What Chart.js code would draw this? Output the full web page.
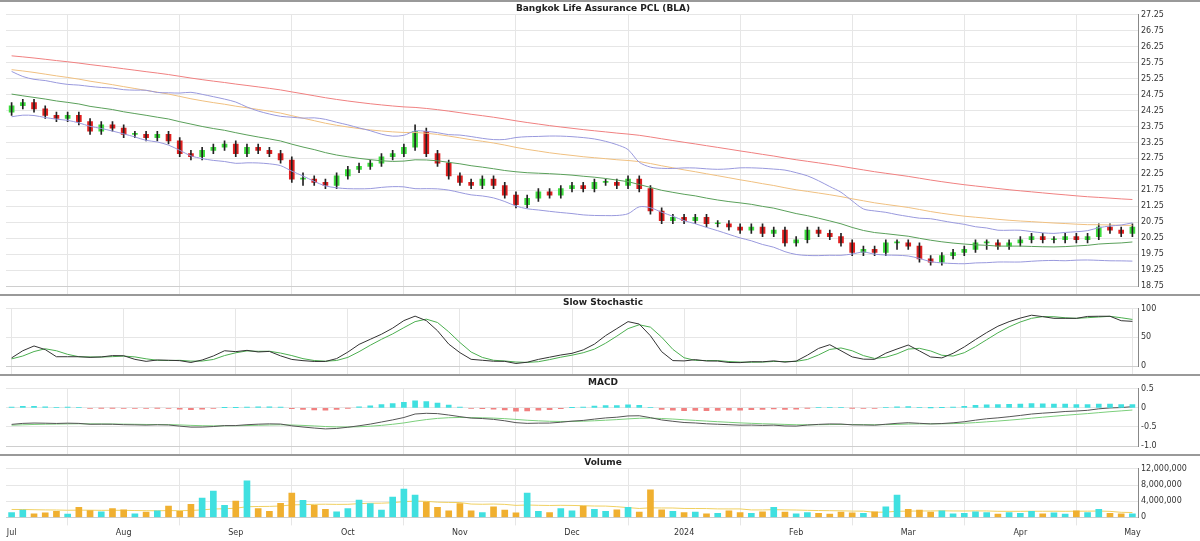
<!DOCTYPE html>
<html><head><meta charset="utf-8">
<script src="https://cdn.jsdelivr.net/npm/chart.js@4.4.0/dist/chart.umd.min.js"></script>
<style>
body{margin:0;background:#fff;font-family:"DejaVu Sans",sans-serif}
.p{position:absolute;left:0;width:1200px;border-top:2px solid #999;box-sizing:border-box}
</style></head><body>
<div class="p" style="top:0;height:294px"><canvas id="main"></canvas></div>
<div class="p" style="top:294px;height:80px"><canvas id="stoch"></canvas></div>
<div class="p" style="top:374px;height:80px"><canvas id="macd"></canvas></div>
<div class="p" style="top:454px;height:87px"><canvas id="vol"></canvas></div>
<script>
// prior closes, used only to warm up the indicators
const historyCloses = [26.8,26.6,26.7,26.4,26.2,26.3,26.0,25.9,25.7,25.8,25.5,25.6,25.3,25.1,25.2,25.0,24.9,25.1,24.8,24.7,24.9,24.6,24.5,24.7,24.4,24.6,24.3,24.5,24.4,24.3];
const opens = [24.2,24.4,24.5,24.3,24.1,24.0,24.1,23.9,23.6,23.8,23.7,23.5,23.5,23.4,23.5,23.3,22.9,22.8,23.0,23.1,23.2,22.9,23.1,23.0,22.9,22.7,22.1,22.1,22.0,21.9,22.2,22.4,22.5,22.6,22.8,22.9,23.1,23.6,22.9,22.6,22.2,22.0,21.9,22.1,21.9,21.6,21.3,21.5,21.7,21.6,21.8,21.9,21.8,22.0,22.0,21.9,22.1,21.8,21.1,20.8,20.9,20.8,20.9,20.7,20.7,20.6,20.5,20.6,20.4,20.5,20.1,20.2,20.5,20.4,20.3,20.1,19.8,19.9,19.8,20.1,20.1,20.0,19.6,19.5,19.7,19.8,19.9,20.1,20.1,20.0,20.1,20.2,20.3,20.2,20.2,20.3,20.2,20.3,20.6,20.5,20.4];
const closes = [24.4,24.5,24.3,24.1,24.0,24.1,23.9,23.6,23.8,23.7,23.5,23.5,23.4,23.5,23.3,22.9,22.8,23.0,23.1,23.2,22.9,23.1,23.0,22.9,22.7,22.1,22.1,22.0,21.9,22.2,22.4,22.5,22.6,22.8,22.9,23.1,23.6,22.9,22.6,22.2,22.0,21.9,22.1,21.9,21.6,21.3,21.5,21.7,21.6,21.8,21.9,21.8,22.0,22.0,21.9,22.1,21.8,21.1,20.8,20.9,20.8,20.9,20.7,20.7,20.6,20.5,20.6,20.4,20.5,20.1,20.2,20.5,20.4,20.3,20.1,19.8,19.9,19.8,20.1,20.1,20.0,19.6,19.5,19.7,19.8,19.9,20.1,20.1,20.0,20.1,20.2,20.3,20.2,20.2,20.3,20.2,20.3,20.6,20.5,20.4,20.6];
const highs = [24.5,24.6,24.6,24.4,24.2,24.2,24.2,24.0,23.9,23.9,23.8,23.6,23.6,23.6,23.6,23.4,23.0,23.1,23.2,23.3,23.3,23.2,23.2,23.1,23.0,22.8,22.3,22.2,22.1,22.3,22.5,22.6,22.7,22.9,23.0,23.2,23.8,23.7,23.0,22.7,22.3,22.1,22.2,22.2,22.0,21.7,21.6,21.8,21.8,21.9,22.0,22.0,22.1,22.1,22.1,22.2,22.2,21.9,21.2,21.0,21.0,21.0,21.0,20.8,20.8,20.7,20.7,20.7,20.6,20.6,20.3,20.6,20.6,20.5,20.4,20.2,20.0,20.0,20.2,20.2,20.2,20.1,19.7,19.8,19.9,20.0,20.2,20.2,20.2,20.2,20.3,20.4,20.4,20.3,20.4,20.4,20.4,20.7,20.7,20.6,20.7];
const lows = [24.1,24.3,24.2,24.0,23.9,23.9,23.8,23.5,23.5,23.6,23.4,23.4,23.3,23.3,23.2,22.8,22.7,22.7,22.9,23.0,22.8,22.8,22.9,22.8,22.6,22.0,21.9,21.9,21.8,21.8,22.1,22.3,22.4,22.5,22.7,22.8,23.0,22.8,22.5,22.1,21.9,21.8,21.8,21.8,21.5,21.2,21.2,21.4,21.5,21.5,21.7,21.7,21.7,21.9,21.8,21.8,21.7,21.0,20.7,20.7,20.7,20.7,20.6,20.6,20.5,20.4,20.4,20.3,20.3,20.0,20.0,20.1,20.3,20.2,20.0,19.7,19.7,19.7,19.7,19.9,19.9,19.5,19.4,19.4,19.6,19.7,19.8,19.9,19.9,19.9,20.0,20.1,20.1,20.1,20.1,20.1,20.1,20.2,20.4,20.3,20.3];
// volume in millions of shares
const volumes = [1.2,1.8,0.9,1.1,1.5,0.8,2.5,1.7,1.4,2.2,1.9,0.9,1.3,1.6,2.8,1.5,3.2,4.8,6.5,3.0,4.0,9.0,2.2,1.5,3.5,6.0,4.2,3.0,2.0,1.4,2.2,4.3,3.4,1.8,5.0,7.0,5.5,3.8,2.5,1.6,3.4,1.6,1.2,2.6,1.8,1.1,6.0,1.5,1.2,2.2,1.6,2.8,2.0,1.5,1.9,2.5,1.3,6.8,1.9,1.5,1.2,1.3,0.9,1.0,1.6,1.2,1.0,1.4,2.5,1.3,0.9,1.2,1.0,0.8,1.3,1.1,1.0,1.4,2.6,5.5,2.0,1.8,1.3,1.6,0.9,1.0,1.4,1.2,0.8,1.2,1.0,1.5,0.9,1.1,0.8,1.6,1.2,2.0,1.0,0.9,0.9];
const monthIdx = [0,10,20,30,40,50,60,70,80,90,100];
const monthNames = ["Jul","Aug","Sep","Oct","Nov","Dec","2024","Feb","Mar","Apr","May"];

const H = historyCloses.length;
const allC = historyCloses.concat(closes);
const allH = historyCloses.concat(highs);
const allL = historyCloses.concat(lows);
const labels = closes.map((c, i) => i);

function sma(a, n) { return a.map((v, i) => i < n - 1 ? null : a.slice(i - n + 1, i + 1).reduce((s, x) => s + x, 0) / n); }
function ema(a, n) { const k = 2 / (n + 1); let e = a[0]; return a.map(v => (e = v * k + e * (1 - k))); }
const sma20 = sma(allC, 20);
const sd20 = allC.map((v, i) => { if (i < 19) return null; const m = sma20[i]; return Math.sqrt(allC.slice(i - 19, i + 1).reduce((s, x) => s + (x - m) ** 2, 0) / 20); });
const vis = a => a.slice(H);
const bbUp = vis(sma20.map((m, i) => m == null ? null : m + 2 * sd20[i]));
const bbLo = vis(sma20.map((m, i) => m == null ? null : m - 2 * sd20[i]));
const emaSlow = vis(ema(allC, 90)), emaMid = vis(ema(allC, 50));
const rawK = allC.map((c, i) => { if (i < 13) return null; const hh = Math.max(...allH.slice(i - 13, i + 1)), ll = Math.min(...allL.slice(i - 13, i + 1)); return hh === ll ? 50 : (c - ll) / (hh - ll) * 100; });
const kLine = sma(rawK.map(v => v ?? 50), 3), dLine = sma(kLine.map(v => v ?? 50), 3);
const macdLine = ema(allC, 12).map((v, i) => v - ema(allC, 26)[i]);
const sigLine = ema(macdLine, 9);
const hist = macdLine.map((v, i) => v - sigLine[i]);

const upC = "#3ddc3d", dnC = "#e02020";
const grid = { color: "#e6e6e6", drawTicks: false };
const font = { family: "DejaVu Sans", size: 8 };
function xScale(show) {
  return { grid: { color: "#e6e6e6" }, offset: true,
    ticks: { display: show, autoSkip: false, maxRotation: 0, font, color: "#333",
      callback: (v) => { const k = monthIdx.indexOf(v); return k < 0 ? null : monthNames[k]; } } };
}
function yScale(extra) {
  return Object.assign({ position: "right", grid, border: { color: "#888" },
    ticks: { font, color: "#333", padding: 4 }, afterFit: s => { s.width = 62; } }, extra);
}
function titlePlugin(text) {
  return { display: true, text, font: { family: "DejaVu Sans", size: 9, weight: "bold" }, color: "#222", padding: { top: 1, bottom: 1 } };
}
const common = { responsive: true, maintainAspectRatio: false, animation: false, layout: { padding: { left: 6 } } };

new Chart(document.getElementById("main"), {
  type: "bar",
  data: { labels, datasets: [
    { type: "line", data: bbUp, borderColor: "#9999dd", borderWidth: 1, pointRadius: 0, tension: 0.3 },
    { type: "line", data: bbLo, borderColor: "#9999dd", borderWidth: 1, pointRadius: 0, tension: 0.3 },
    { type: "line", data: emaSlow, borderColor: "#f08080", borderWidth: 1, pointRadius: 0 },
    { type: "line", data: emaMid, borderColor: "#f0c080", borderWidth: 1, pointRadius: 0 },
    { type: "line", data: vis(sma20), borderColor: "#5aa05a", borderWidth: 1, pointRadius: 0 },
    { data: lows.map((l, i) => [l, highs[i]]), backgroundColor: "#222", barThickness: 1, grouped: false },
    { data: opens.map((o, i) => [o, closes[i]]), backgroundColor: closes.map((c, i) => c >= opens[i] ? upC : dnC),
      barThickness: 5, minBarLength: 1, grouped: false }
  ] },
  options: Object.assign({}, common, {
    plugins: { legend: { display: false }, tooltip: { enabled: false }, title: titlePlugin("Bangkok Life Assurance PCL (BLA)") },
    scales: { x: xScale(false), y: yScale({ min: 18.75, max: 27.25, ticks: { font, color: "#333", stepSize: 0.5, callback: v => v.toFixed(2) } }) }
  })
});

new Chart(document.getElementById("stoch"), {
  type: "line",
  data: { labels, datasets: [
    { data: vis(kLine), borderColor: "#333", borderWidth: 1, pointRadius: 0 },
    { data: vis(dLine), borderColor: "#4caf50", borderWidth: 1, pointRadius: 0 }
  ] },
  options: Object.assign({}, common, {
    plugins: { legend: { display: false }, title: titlePlugin("Slow Stochastic") },
    scales: { x: xScale(false), y: yScale({ min: 0, max: 100, ticks: { font, color: "#333", stepSize: 50 } }) }
  })
});

new Chart(document.getElementById("macd"), {
  type: "bar",
  data: { labels, datasets: [
    { data: vis(hist), backgroundColor: vis(hist).map(v => v >= 0 ? "#40e0e0" : "#f08080"), barThickness: 5 },
    { type: "line", data: vis(macdLine), borderColor: "#555", borderWidth: 1, pointRadius: 0 },
    { type: "line", data: vis(sigLine), borderColor: "#7ccf7c", borderWidth: 1, pointRadius: 0 }
  ] },
  options: Object.assign({}, common, {
    plugins: { legend: { display: false }, title: titlePlugin("MACD") },
    scales: { x: xScale(false), y: yScale({ ticks: { font, color: "#333", maxTicksLimit: 4 } }) }
  })
});

new Chart(document.getElementById("vol"), {
  type: "bar",
  data: { labels, datasets: [
    { data: volumes.map(v => v * 1e6), backgroundColor: closes.map((c, i) => c >= opens[i] ? "#40e0e0" : "#f0b030"), barThickness: 6 },
    { type: "line", data: vis(sma(historyCloses.map(() => 2).concat(volumes), 20)).map(v => v * 1e6), borderColor: "#f0d060", borderWidth: 1, pointRadius: 0 }
  ] },
  options: Object.assign({}, common, {
    plugins: { legend: { display: false }, title: titlePlugin("Volume") },
    scales: { x: xScale(true), y: yScale({ min: 0, max: 12e6, ticks: { font, color: "#333", stepSize: 4e6 } }) }
  })
});
</script></body></html>
